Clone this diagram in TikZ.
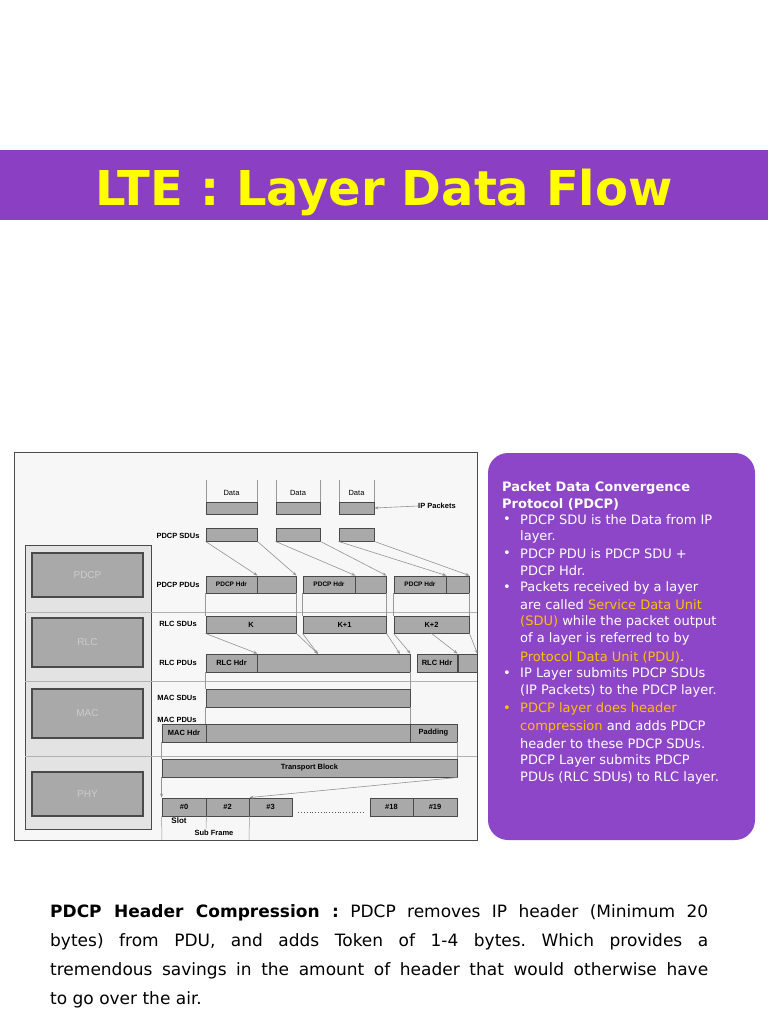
\documentclass[tikz,border=0pt]{standalone}
\usepackage{fontspec}
\setmainfont{DejaVu Sans}
\newfontfamily\dfont{Liberation Sans}
\usetikzlibrary{arrows.meta,calc}
\definecolor{purp}{HTML}{8B3FC2}
\definecolor{bpurp}{HTML}{8E46C8}
\definecolor{ylw}{HTML}{FFFF00}
\definecolor{oyl}{HTML}{FFC000}
\definecolor{gbox}{HTML}{A9A9A9}
\definecolor{gedge}{HTML}{4A4A4A}
\frenchspacing
\tikzset{
 gb/.style={draw=gedge,fill=gbox,line width=0.9pt,inner sep=0pt},
 lay/.style={draw=gedge,fill=gbox,line width=1.2pt},
 lbl/.style={font=\dfont\bfseries\fontsize{7.5}{8}\selectfont,inner sep=0pt},
 thin/.style={draw=gray!80,line width=0.5pt},
 arr/.style={draw=gray!85,line width=0.6pt,-{Stealth[length=4pt,width=3pt]}},
 rt/.style={anchor=west,inner sep=0pt,text=white,font=\fontsize{13}{15}\selectfont},
}
\begin{document}
\begin{tikzpicture}[x=1pt,y=-1pt]
\useasboundingbox (0,0) rectangle (768,1024);
\fill[white] (0,0) rectangle (768,1024);
% title
\fill[purp] (0,150) rectangle (768,220);
\node[font=\bfseries\fontsize{48}{52}\selectfont,text=ylw] (title) at (384,192) {LTE : Layer Data Flow};
% diagram frame
\draw[fill=gray!6,draw=gray!60!black,line width=1pt] (14,452) rectangle (477,840);
% layer panel
\draw[fill=gray!22,draw=gedge,line width=1pt] (25,545) rectangle (151,829);
\foreach \yy in {612,681,756} \draw[gray!60,line width=0.6pt] (25,\yy) -- (477,\yy);
\node[lay,minimum width=111,minimum height=44,font=\dfont\fontsize{10}{12}\selectfont,text=gray!40] (pdcpL) at (87.5,575) {PDCP};
\node[lay,minimum width=111,minimum height=49,font=\dfont\fontsize{10}{12}\selectfont,text=gray!40] (rlcL) at (87.5,642.5) {RLC};
\node[lay,minimum width=111,minimum height=49,font=\dfont\fontsize{10}{12}\selectfont,text=gray!40] (macL) at (87.5,713.5) {MAC};
\node[lay,minimum width=111,minimum height=44,font=\dfont\fontsize{10}{12}\selectfont,text=gray!40] (phyL) at (87.5,794) {PHY};
% data columns
\foreach \a/\b/\n in {206/257/1,276/320/2,339/374/3}{
 \draw[thin] (\a,480) -- (\a,502); \draw[thin] (\b,480) -- (\b,502);
 \node[lbl,font=\dfont\fontsize{7.5}{8}\selectfont] (data\n) at ({(\a+\b)/2},493) {Data};
 \node[gb,minimum width={\b-\a},minimum height=12] (ip\n) at ({(\a+\b)/2},508) {};
 \node[gb,minimum width={\b-\a},minimum height=13] (sdu\n) at ({(\a+\b)/2},534.5) {};
}
\node[lbl,anchor=west] (iplab) at (418,506) {IP Packets};
\draw[arr] (iplab.west) -- (ip3.east);
\node[lbl] (pdcpsdus) at (178,536) {PDCP SDUs};
% PDCP PDUs
\node[lbl] (pdcppdus) at (178,585) {PDCP PDUs};
\node[gb,minimum width=51,minimum height=17,font=\dfont\bfseries\fontsize{6.5}{7}\selectfont,text=black] (h1) at (231.5,584.5) {PDCP Hdr};
\node[gb,minimum width=39,minimum height=17] (p1) at (276.5,584.5) {};
\node[gb,minimum width=52,minimum height=17,font=\dfont\bfseries\fontsize{6.5}{7}\selectfont,text=black] (h2) at (329,584.5) {PDCP Hdr};
\node[gb,minimum width=31,minimum height=17] (p2) at (370.5,584.5) {};
\node[gb,minimum width=52,minimum height=17,font=\dfont\bfseries\fontsize{6.5}{7}\selectfont,text=black] (h3) at (420,584.5) {PDCP Hdr};
\node[gb,minimum width=23,minimum height=17] (p3) at (457.5,584.5) {};
\foreach \n in {1,2,3}{
 \draw[arr] (sdu\n.south west) -- (h\n.north east);
 \draw[arr] (sdu\n.south east) -- (p\n.north east);
}
% RLC SDUs
\node[lbl] (rlcsdus) at (178,624) {RLC SDUs};
\node[gb,minimum width=90,minimum height=17,font=\dfont\bfseries\fontsize{7.5}{8}\selectfont] (k1) at (251,624.5) {K};
\node[gb,minimum width=83,minimum height=17,font=\dfont\bfseries\fontsize{7.5}{8}\selectfont] (k2) at (344.5,624.5) {K+1};
\node[gb,minimum width=75,minimum height=17,font=\dfont\bfseries\fontsize{7.5}{8}\selectfont] (k3) at (431.5,624.5) {K+2};
\foreach \n in {1,2,3}{
 \draw[thin] (h\n.south west) -- (k\n.north west);
 \draw[thin] (p\n.south east) -- (k\n.north east);
}
% RLC PDUs
\node[lbl] (rlcpdus) at (178,663) {RLC PDUs};
\node[gb,minimum width=51,minimum height=18,font=\dfont\bfseries\fontsize{7.5}{8}\selectfont] (rh1) at (231.5,663) {RLC Hdr};
\node[gb,minimum width=153,minimum height=18] (rp1) at (333.5,663) {};
\node[gb,minimum width=40,minimum height=18,font=\dfont\bfseries\fontsize{7.5}{8}\selectfont] (rh2) at (437,663) {RLC Hdr};
\node[gb,minimum width=19,minimum height=18] (rp2) at (467.5,663) {};
\coordinate (c1) at (318,654);
\coordinate (c2) at (400,654);
\draw[arr] (k1.south west) -- (rh1.north east);
\draw[arr] (k1.south east) -- (c1);
\draw[arr] (k2.south west) -- (c1);
\draw[arr] (k2.south east) -- (c2);
\draw[arr] (k3.south west) -- (rp1.north east);
\draw[arr] (k3.south) -- (rh2.north east);
\draw[arr] (k3.south east) -- (rp2.north east);
% MAC
\node[lbl] (macsdus) at (177,698) {MAC SDUs};
\node[gb,minimum width=204,minimum height=18] (msdu) at (308,698) {};
\draw[thin] (rh1.south west) -- (msdu.north west);
\draw[thin] (rp1.south east) -- (msdu.north east);
\node[lbl] (macpdus) at (177,720) {MAC PDUs};
\node[gb,minimum width=44,minimum height=18,font=\dfont\bfseries\fontsize{7.5}{8}\selectfont] (mh) at (184,733) {MAC Hdr};
\node[gb,minimum width=204,minimum height=18] (mp) at (308,733) {};
\node[gb,minimum width=47,minimum height=18,font=\dfont\bfseries\fontsize{7.5}{8}\selectfont] (pad) at (433.5,733) {Padding};
\draw[thin] (msdu.south west) -- (mp.north west);
\draw[thin] (msdu.south east) -- (mp.north east);
% PHY
\node[gb,minimum width=295,minimum height=18,font=\dfont\bfseries\fontsize{7.5}{8}\selectfont] (tb) at (309.5,768) {Transport Block};
\draw[thin] (mh.south west) -- (tb.north west);
\draw[thin] (pad.south east) -- (tb.north east);
\node[gb,minimum width=44,minimum height=18,font=\dfont\bfseries\fontsize{7.5}{8}\selectfont] (s0) at (184,807) {\#0};
\node[gb,minimum width=43,minimum height=18,font=\dfont\bfseries\fontsize{7.5}{8}\selectfont] (s2) at (227.5,807) {\#2};
\node[gb,minimum width=43,minimum height=18,font=\dfont\bfseries\fontsize{7.5}{8}\selectfont] (s3) at (270.5,807) {\#3};
\node[gb,minimum width=43,minimum height=18,font=\dfont\bfseries\fontsize{7.5}{8}\selectfont] (s18) at (391.5,807) {\#18};
\node[gb,minimum width=44,minimum height=18,font=\dfont\bfseries\fontsize{7.5}{8}\selectfont] (s19) at (435,807) {\#19};
\draw[gray!70!black,dotted,line width=0.8pt] ($(s3.east)+(6,5)$) -- ($(s18.west)+(-6,5)$);
\draw[arr] (tb.south west) -- (s0.north west);
\draw[arr] (tb.south east) -- (s2.north east);
\coordinate (e1) at (162,840);
\coordinate (e2) at (206,828);
\coordinate (e3) at (249,840);
\draw[thin] (s0.south west) -- (e1);
\draw[thin] (s0.south east) -- (e2);
\draw[thin] (s2.south east) -- (e3);
\node[lbl,font=\dfont\bfseries\fontsize{8}{9}\selectfont] (slot) at (179,821) {Slot};
\node[lbl] (sub) at (214,833) {Sub Frame};
% right box
\fill[bpurp,rounded corners=20] (488,453) rectangle (755,840);
\node[rt,font=\bfseries\fontsize{13}{15}\selectfont] (t1) at (502,488) {Packet Data Convergence};
\node[rt,font=\bfseries\fontsize{13}{15}\selectfont] (t2) at (502,504) {Protocol (PDCP)};
\foreach \yy in {520,554,588,674}{\node[rt] at (503,\yy) {•};}
\node[rt,text=oyl] at (503,709) {•};
\node[rt] at (520,520) {PDCP SDU is the Data from IP};
\node[rt] at (520,537) {layer.};
\node[rt] at (520,554) {PDCP PDU is PDCP SDU +};
\node[rt] at (520,571) {PDCP Hdr.};
\node[rt] at (520,588) {Packets received by a layer};
\node[rt] at (520,605) {are called \textcolor{oyl}{Service Data Unit}};
\node[rt] at (520,622) {\textcolor{oyl}{(SDU)} while the packet output};
\node[rt] at (520,639) {of a layer is referred to by};
\node[rt] at (520,657) {\textcolor{oyl}{Protocol Data Unit (PDU)}.};
\node[rt] at (520,674) {IP Layer submits PDCP SDUs};
\node[rt] at (520,691) {(IP Packets) to the PDCP layer.};
\node[rt,text=oyl] at (520,709) {PDCP layer does header};
\node[rt] at (520,727) {\textcolor{oyl}{compression} and adds PDCP};
\node[rt] at (520,744) {header to these PDCP SDUs.};
\node[rt] at (520,761) {PDCP Layer submits PDCP};
\node[rt] at (520,778) {PDUs (RLC SDUs) to RLC layer.};
% bottom text
\node[anchor=north west,inner sep=0pt,text width=658pt,align=justify,font=\fontsize{17}{29}\selectfont] (bt) at (50,904)
{\textbf{PDCP Header Compression :} PDCP removes IP header (Minimum 20\linebreak bytes) from PDU, and adds Token of 1-4 bytes. Which provides a\linebreak tremendous savings in the amount of header that would otherwise have\linebreak to go over the air.};
\end{tikzpicture}
\end{document}
